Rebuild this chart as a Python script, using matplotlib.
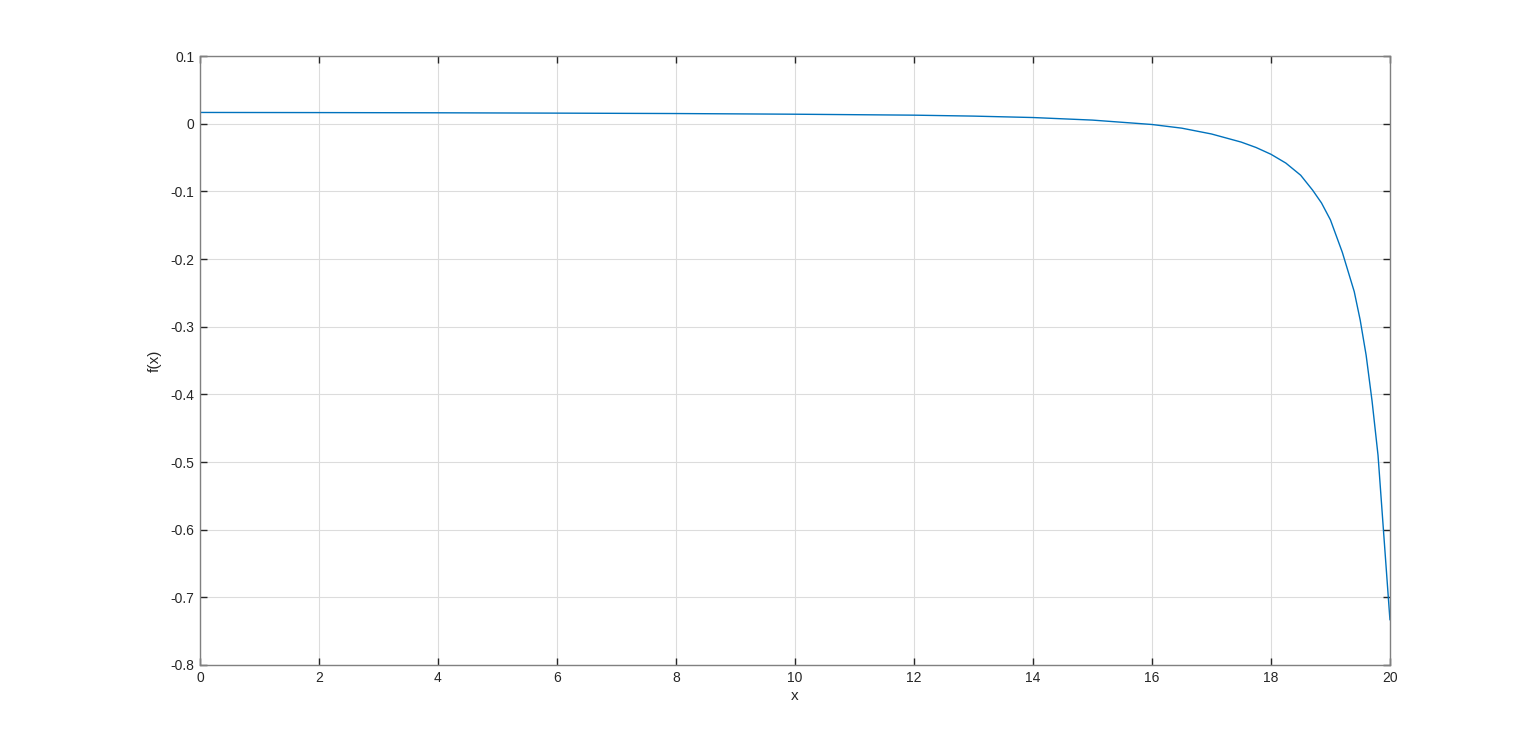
import matplotlib
matplotlib.use("Agg")
import matplotlib.pyplot as plt

# values
x = [0, 2, 4, 6, 8, 10, 12, 13, 14, 15, 16, 16.5, 17, 17.5, 17.75, 18,
     18.25, 18.5, 18.7, 18.85, 19.0, 19.2, 19.4, 19.5, 19.6, 19.7, 19.8, 20.0]
fx = [0.0168, 0.0166, 0.0163, 0.0158, 0.0152, 0.0142, 0.0128, 0.0114,
      0.0093, 0.0055, -0.001, -0.0064, -0.015, -0.027, -0.035, -0.045,
      -0.058, -0.076, -0.098, -0.117, -0.142, -0.19, -0.248, -0.29,
      -0.342, -0.41, -0.49, -0.733]

xticks = [0, 2, 4, 6, 8, 10, 12, 14, 16, 18, 20]
yticks = [0.1, 0, -0.1, -0.2, -0.3, -0.4, -0.5, -0.6, -0.7, -0.8]
ytick_labels = ["0.1", "0", "-0.1", "-0.2", "-0.3", "-0.4", "-0.5", "-0.6", "-0.7", "-0.8"]

plt.rcParams['font.family'] = ['Liberation Sans', 'DejaVu Sans']

fig = plt.figure(figsize=(15.36, 7.47), dpi=100)
ax = fig.add_axes([0.1302, 0.1098, 0.7747, 0.815])

ax.plot(x, fx, color='#0072BD', linewidth=1.0)

ax.set_xlim(0, 20)
ax.set_ylim(-0.8, 0.1)
ax.set_xticks(xticks)
ax.set_yticks(yticks)
ax.set_yticklabels(ytick_labels)
ax.grid(True, color='#dcdcdc', linewidth=0.8)
ax.set_axisbelow(True)

for s in ax.spines.values():
    s.set_color('#808080')
    s.set_linewidth(1.0)
ax.tick_params(direction='in', length=5, width=1, color='#262626',
               labelsize=10, labelcolor='#262626', top=True, right=True, pad=4)

ax.set_xlabel("x", fontsize=11, color='#262626', labelpad=3)
ax.set_ylabel("f(x)", fontsize=11, color='#262626', labelpad=6)

fig.savefig("out.png", dpi=100)
